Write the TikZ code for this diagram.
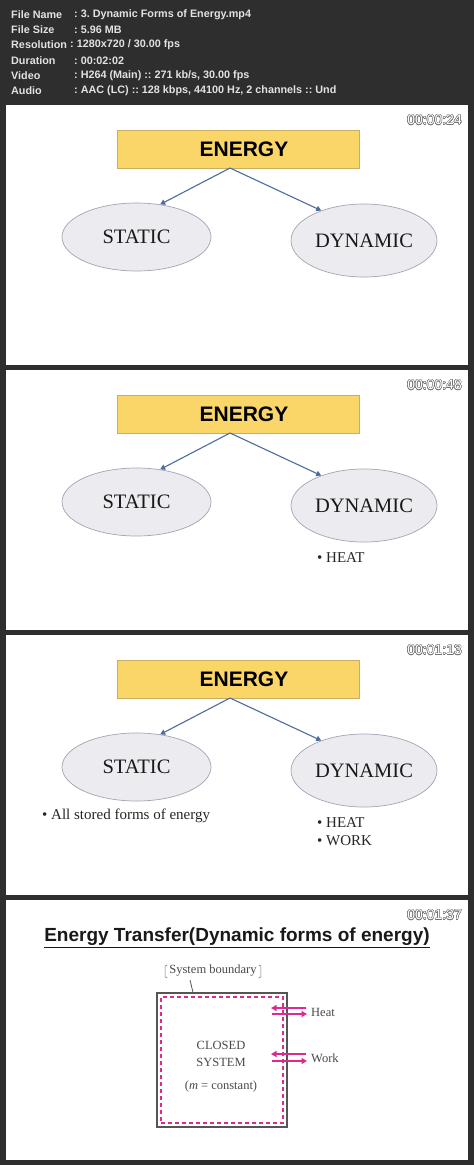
\documentclass[tikz,border=0pt]{standalone}
\usepackage{fontspec}
\setmainfont{Liberation Serif}
\newfontfamily\arialf{Liberation Sans}
\usepackage{contour}
\contourlength{0.45pt}
\usetikzlibrary{arrows.meta,shapes.geometric}
\definecolor{bgdark}{HTML}{2E2E2E}
\definecolor{hdrtext}{HTML}{E2E2E2}
\definecolor{boxfill}{HTML}{FAD669}
\definecolor{boxline}{HTML}{C8AE62}
\definecolor{ellfill}{HTML}{ECECF0}
\definecolor{ellline}{HTML}{A4A4B4}
\definecolor{arrblue}{HTML}{4C6C9E}
\definecolor{magent}{HTML}{DC2A8E}
\definecolor{boxgray}{HTML}{555555}
\definecolor{txtgray}{HTML}{4A4A4A}
\frenchspacing
\tikzset{
  hdr/.style={anchor=west, text=hdrtext, font=\arialf\bfseries\fontsize{10.8}{12}\selectfont, inner sep=0pt},
  panel/.style={fill=white, draw=none},
  energybox/.style={draw=boxline, fill=boxfill, line width=0.6pt},
  energytext/.style={font=\arialf\bfseries\fontsize{21}{24}\selectfont, text=black, inner sep=0pt},
  oval/.style={ellipse, draw=ellline, fill=ellfill, line width=0.7pt, inner sep=0pt,
     font=\fontsize{20.5}{24}\selectfont, text=black!90},
  link/.style={draw=arrblue, line width=1.1pt, -{Triangle[width=5.5pt,length=5pt]}},
  bullet/.style={anchor=west, font=\fontsize{15}{18}\selectfont, text=black!85, inner sep=0pt},
  ts/.style={anchor=east, font=\arialf\fontsize{14}{16}\selectfont, text=white, inner sep=0pt},
  heatarrow/.style={draw=magent, line width=1.7pt, -{Triangle[width=6pt,length=5.5pt]}},
  small/.style={font=\fontsize{12.5}{14}\selectfont, text=txtgray, inner sep=0pt},
}
\newcommand{\energypanel}[3]{%
  \begin{scope}[shift={(0,#2)}]
    \path[panel] (6,5) rectangle (468,265);
    \node[ts] (ts#1) at (462,20) {\contour{black!55}{#3}};
    \node[energybox, minimum width=242pt, minimum height=38pt, inner sep=0pt] (en#1) at (238,49) {};
    \node[energytext] (et#1) at (244,49) {ENERGY};
    \coordinate (src#1) at (230,68);
    \node[oval, minimum width=149pt, minimum height=68pt] (st#1) at (136.5,137) {STATIC};
    \node[oval, minimum width=146pt, minimum height=73pt] (dy#1) at (364,140.5) {DYNAMIC};
    \draw[link] (src#1) -- (st#1.54);
    \draw[link] (src#1) -- (dy#1.145);
  \end{scope}}
\begin{document}
\begin{tikzpicture}[x=1pt,y=-1pt]
\useasboundingbox (0,0) rectangle (474,1165);
\fill[bgdark] (0,0) rectangle (474,1165);
% header
\node[hdr] (h1) at (11,15) {File Name};
\node[hdr] (h2) at (11,30) {File Size};
\node[hdr] (h3) at (11,45) {Resolution};
\node[hdr] (h4) at (11,61) {Duration};
\node[hdr] (h5) at (11,76) {Video};
\node[hdr] (h6) at (11,91) {Audio};
\node[hdr] (v1) at (74,15) {:\ 3. Dynamic Forms of Energy.mp4};
\node[hdr] (v2) at (74,30) {:\ 5.96 MB};
\node[hdr] (v3) at (70,45) {:\ 1280x720 / 30.00 fps};
\node[hdr] (v4) at (74,61) {:\ 00:02:02};
\node[hdr] (v5) at (74,76) {:\ H264 (Main) :: 271 kb/s, 30.00 fps};
\node[hdr] (v6) at (74,91) {:\ AAC (LC) :: 128 kbps, 44100 Hz, 2 channels :: Und};
% panels 1-3
\energypanel{1}{100}{00:00:24}
\energypanel{2}{365}{00:00:48}
\energypanel{3}{630}{00:01:13}
\begin{scope}[shift={(0,365)}]
  \node[bullet] (b2a) at (317,193) {\textbullet\ HEAT};
\end{scope}
\begin{scope}[shift={(0,630)}]
  \node[bullet] (b3s) at (42,186) {\textbullet\ All stored forms of energy};
  \node[bullet] (b3a) at (317,193) {\textbullet\ HEAT};
  \node[bullet] (b3b) at (317,211) {\textbullet\ WORK};
\end{scope}
% panel 4
\begin{scope}[shift={(0,895)}]
  \path[panel] (6,5) rectangle (468,265);
  \node[ts] (ts4) at (462,20) {\contour{black!55}{00:01:37}};
  \node[font=\arialf\bfseries\fontsize{19}{22}\selectfont, text=black!90, inner sep=0pt] (title) at (237,43) {\underline{Energy Transfer(Dynamic forms of energy)}};
  \node[small] (sb) at (213,76) {System boundary};
  \draw[boxgray!80, line width=0.5pt] ([xshift=-2pt,yshift=6pt]sb.west) -- ([xshift=-4pt,yshift=5pt]sb.west) -- ([xshift=-4pt,yshift=-6pt]sb.west) -- ([xshift=-2pt,yshift=-7pt]sb.west);
  \draw[boxgray!80, line width=0.5pt] ([xshift=2pt,yshift=6pt]sb.east) -- ([xshift=4pt,yshift=5pt]sb.east) -- ([xshift=4pt,yshift=-6pt]sb.east) -- ([xshift=2pt,yshift=-7pt]sb.east);
  \node[draw=boxgray, line width=1.4pt, minimum width=130pt, minimum height=134pt, inner sep=0pt] (outer) at (222,165) {};
  \node[draw, color=magent, dash pattern=on 4pt off 3pt, line width=1.1pt, minimum width=122pt, minimum height=126pt, inner sep=0pt] (inner) at (222,165) {};
  \coordinate (lead) at (190,85);
  \draw[boxgray, line width=0.8pt] (lead) -- (outer.north west -| 193,0);
  \node[small, anchor=west] (heat) at (311,117) {Heat};
  \node[small, anchor=west] (work) at (311,163) {Work};
  \coordinate (h1o) at (306,113); \coordinate (h1i) at (271,113);
  \coordinate (h2i) at (272,119); \coordinate (h2o) at (307,119);
  \coordinate (w1o) at (306,159); \coordinate (w1i) at (271,159);
  \coordinate (w2i) at (272,166); \coordinate (w2o) at (307,166);
  \draw[heatarrow] (h1o) -- (h1i);
  \draw[heatarrow] (h2i) -- (h2o);
  \draw[heatarrow] (w1o) -- (w1i);
  \draw[heatarrow] (w2i) -- (w2o);
  \node[small] (cl) at (221,150) {CLOSED};
  \node[small] (sy) at (221,167) {SYSTEM};
  \node[small] (mc) at (221,191) {(\textit{m} = constant)};
\end{scope}
\end{tikzpicture}
\end{document}
